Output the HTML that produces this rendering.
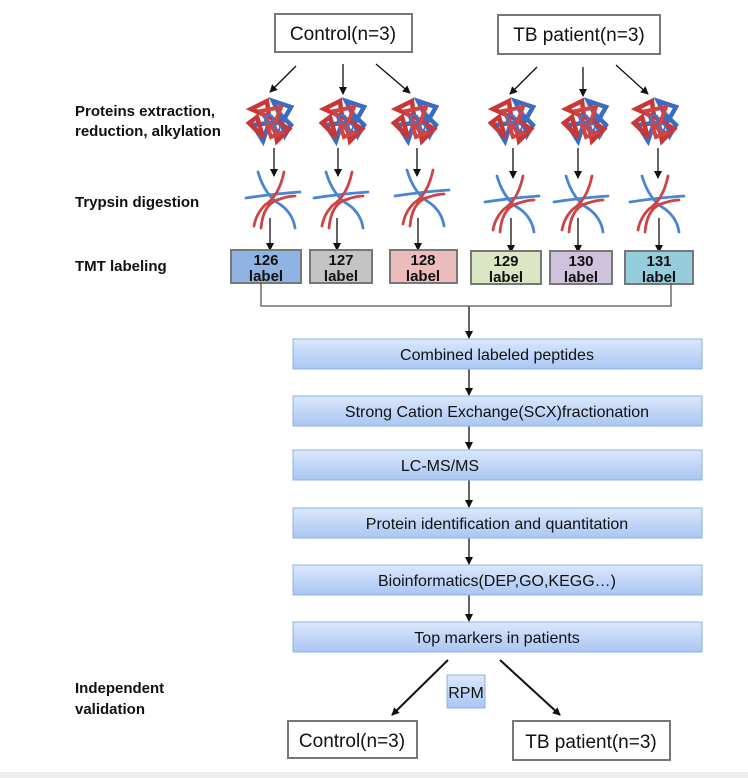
<!DOCTYPE html>
<html><head><meta charset="utf-8"><style>
body{margin:0;width:748px;height:778px;background:#fff;overflow:hidden}
svg{display:block}
text{font-family:"Liberation Sans",sans-serif}
</style></head><body>
<svg width="748" height="778" viewBox="0 0 748 778">
<defs>
<linearGradient id="bg" x1="0" y1="0" x2="0" y2="1"><stop offset="0" stop-color="#dbe8fb"/><stop offset="1" stop-color="#a9c6f3"/></linearGradient>
<marker id="ah" markerWidth="8" markerHeight="8" refX="7" refY="4" orient="auto" markerUnits="userSpaceOnUse"><path d="M0,0 L8,4 L0,8 z" fill="#111"/></marker>
<g id="blob">
<path d="M2,-20 L20,-14 L12,0 z M-18,4 L-2,2 L-8,20 z M8,-8 L20,4 L14,14 z" fill="none" stroke="#3b6cc0" stroke-width="4.5"/>
<path d="M-20,-12 L-4,-20 L-2,-4 z M2,-2 L18,8 L6,20 z M-22,2 L-8,16 L-14,-4 z" fill="none" stroke="#c83636" stroke-width="4.5"/>
<path d="M-10,-10 L10,-14 L2,8 z M-4,4 L10,12 L0,16 z" fill="none" stroke="#d24444" stroke-width="4"/>
<circle cx="-2" cy="-2" r="4" fill="none" stroke="#4a73c4" stroke-width="2.5"/>
<circle cx="6" cy="6" r="3" fill="none" stroke="#4a73c4" stroke-width="2"/>
</g>
<g id="pep" fill="none" stroke-width="2.8" stroke-linecap="round">
<path d="M-26,0 Q0,-4 28,-6" stroke="#4a86d0"/>
<path d="M-14,-26 Q-7,-2 9,7 Q21,16 23,30" stroke="#4a86d0"/>
<path d="M12,-26 Q7,-2 -7,7 Q-16,16 -18,28" stroke="#cc4444"/>
<path d="M-11,30 Q-9,7 5,2 Q16,-2 23,-2" stroke="#cc4444"/>
</g>
</defs>
<rect x="0" y="772" width="748" height="6" fill="#eeeeee"/>
<g fill="#fff" stroke="#777" stroke-width="2">
<rect x="275" y="14" width="137" height="38"/>
<rect x="498" y="15" width="162" height="39"/>
<rect x="288" y="721" width="129" height="37"/>
<rect x="513" y="721" width="157" height="39"/>
</g>
<g font-size="19" fill="#111" text-anchor="middle">
<text x="343" y="40">Control(n=3)</text>
<text x="579" y="41">TB patient(n=3)</text>
<text x="352" y="747">Control(n=3)</text>
<text x="591" y="748">TB patient(n=3)</text>
</g>
<g font-size="15" font-weight="bold" fill="#111">
<text x="75" y="116">Proteins extraction,</text>
<text x="75" y="136">reduction, alkylation</text>
<text x="75" y="207">Trypsin digestion</text>
<text x="75" y="271">TMT labeling</text>
<text x="75" y="693">Independent</text>
<text x="75" y="714">validation</text>
</g>
<g stroke="#111" stroke-width="1.3" marker-end="url(#ah)">
<line x1="296" y1="66" x2="270" y2="92"/>
<line x1="343" y1="64" x2="343" y2="94"/>
<line x1="376" y1="64" x2="410" y2="93"/>
<line x1="537" y1="67" x2="510" y2="94"/>
<line x1="583" y1="67" x2="583" y2="96"/>
<line x1="616" y1="65" x2="648" y2="94"/>
<line x1="274" y1="148" x2="274" y2="176"/>
<line x1="338" y1="148" x2="338" y2="176"/>
<line x1="417" y1="148" x2="417" y2="176"/>
<line x1="513" y1="148" x2="513" y2="178"/>
<line x1="578" y1="148" x2="578" y2="178"/>
<line x1="658" y1="148" x2="658" y2="178"/>
<line x1="270" y1="218" x2="270" y2="250"/>
<line x1="337" y1="218" x2="337" y2="250"/>
<line x1="418" y1="218" x2="418" y2="250"/>
<line x1="511" y1="218" x2="511" y2="252"/>
<line x1="578" y1="218" x2="578" y2="252"/>
<line x1="659" y1="218" x2="659" y2="252"/>
<line x1="469" y1="306" x2="469" y2="338"/>
<line x1="469" y1="369" x2="469" y2="395"/>
<line x1="469" y1="426" x2="469" y2="449"/>
<line x1="469" y1="480" x2="469" y2="507"/>
<line x1="469" y1="538" x2="469" y2="564"/>
<line x1="469" y1="595" x2="469" y2="621"/>
<line x1="448" y1="660" x2="392" y2="715" stroke-width="2"/>
<line x1="500" y1="660" x2="560" y2="715" stroke-width="2"/>
</g>
<use href="#blob" x="271" y="121"/><use href="#blob" x="344" y="121"/><use href="#blob" x="416" y="121"/>
<use href="#blob" x="513" y="121"/><use href="#blob" x="586" y="121"/><use href="#blob" x="656" y="121"/>
<use href="#pep" x="272" y="198"/><use href="#pep" x="340" y="198"/><use href="#pep" x="421" y="196"/>
<use href="#pep" x="511" y="202"/><use href="#pep" x="580" y="202"/><use href="#pep" x="656" y="202"/>
<g stroke="#777" stroke-width="2">
<rect x="231" y="250" width="70" height="33" fill="#8fb3e3"/>
<rect x="310" y="250" width="62" height="33" fill="#c4c4c4"/>
<rect x="390" y="250" width="67" height="33" fill="#ecbcbc"/>
<rect x="471" y="251" width="70" height="33" fill="#dbe6c4"/>
<rect x="550" y="251" width="62" height="33" fill="#cfc2dd"/>
<rect x="625" y="251" width="68" height="33" fill="#96cddd"/>
</g>
<g font-size="15" font-weight="bold" fill="#111" text-anchor="middle">
<text x="266" y="265">126</text><text x="266" y="281">label</text>
<text x="341" y="265">127</text><text x="341" y="281">label</text>
<text x="423" y="265">128</text><text x="423" y="281">label</text>
<text x="506" y="266">129</text><text x="506" y="282">label</text>
<text x="581" y="266">130</text><text x="581" y="282">label</text>
<text x="659" y="266">131</text><text x="659" y="282">label</text>
</g>
<path d="M261,283 V306 H671 V283" fill="none" stroke="#555" stroke-width="1.3"/>
<g fill="url(#bg)" stroke="#8fb0e0" stroke-width="1">
<rect x="293" y="339" width="409" height="30"/>
<rect x="293" y="396" width="409" height="30"/>
<rect x="293" y="450" width="409" height="30"/>
<rect x="293" y="508" width="409" height="30"/>
<rect x="293" y="565" width="409" height="30"/>
<rect x="293" y="622" width="409" height="30"/>
<rect x="447" y="675" width="38" height="33"/>
</g>
<g font-size="16" fill="#111" text-anchor="middle">
<text x="497" y="360">Combined labeled peptides</text>
<text x="497" y="417">Strong Cation Exchange(SCX)fractionation</text>
<text x="440" y="471">LC-MS/MS</text>
<text x="497" y="529">Protein identification and quantitation</text>
<text x="497" y="586">Bioinformatics(DEP,GO,KEGG…)</text>
<text x="497" y="643">Top markers in patients</text>
<text x="466" y="698">RPM</text>
</g>
</svg>
</body></html>
